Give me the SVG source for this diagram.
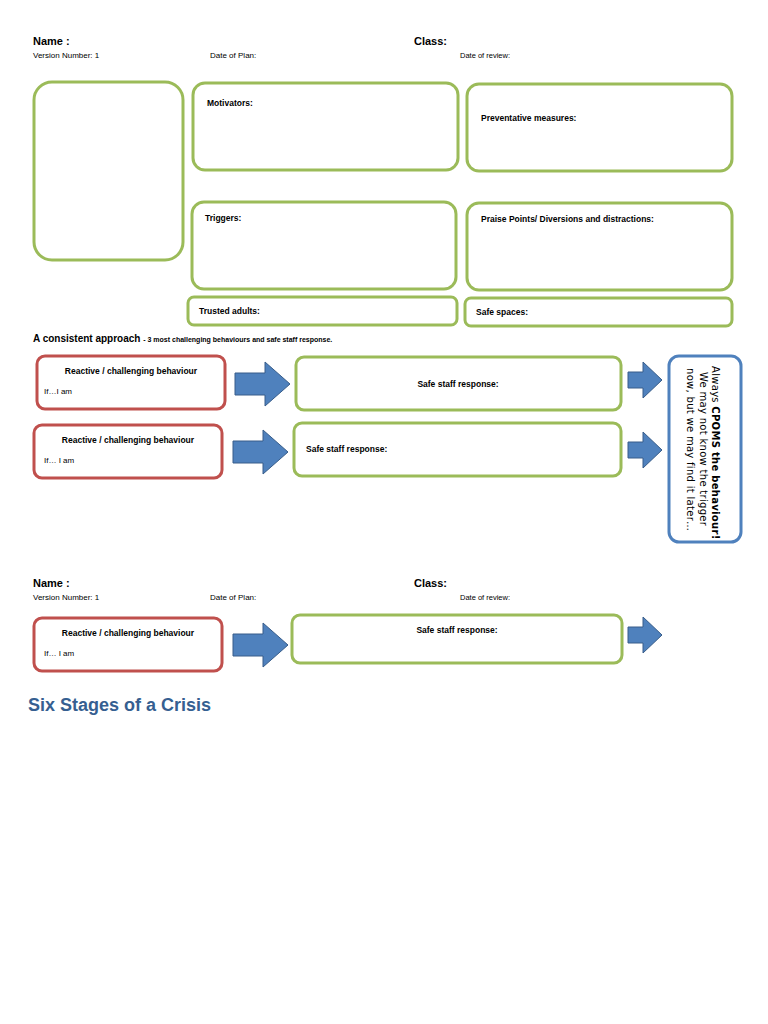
<svg xmlns="http://www.w3.org/2000/svg" width="768" height="1024" viewBox="0 0 768 1024">
<style>
text{font-family:"Liberation Sans",Arial,sans-serif;fill:#000}
.h{font-size:11px;font-weight:bold}
.s{font-size:8px}
.l{font-size:8.5px;font-weight:bold}
.g{fill:#fff;stroke:#9bbb59;stroke-width:3}
.r{fill:#fff;stroke:#c0504d;stroke-width:3}
.b{fill:#fff;stroke:#4f81bd;stroke-width:3}
.a{fill:#4f81bd;stroke:#385d8a;stroke-width:1}
.v{font-size:10px;font-family:"DejaVu Sans",sans-serif;letter-spacing:0.3px}
</style>
<rect width="768" height="1024" fill="#fff"/>
<g id="header1">
<text x="33" y="45" class="h">Name :</text>
<text x="414" y="45" class="h">Class:</text>
<text x="33" y="58" class="s">Version Number:  1</text>
<text x="210" y="58" class="s">Date of Plan:</text>
<text x="460" y="58" class="s" style="font-size:7.5px">Date of review:</text>
</g>
<g id="photo"><rect x="34" y="82" width="149" height="178" rx="18" class="g"/></g>
<g id="motivators"><rect x="193" y="83" width="265" height="87" rx="12" class="g"/><text x="207" y="106" class="l">Motivators:</text></g>
<g id="preventative"><rect x="467" y="84" width="265" height="87" rx="12" class="g"/><text x="481" y="121" class="l">Preventative measures:</text></g>
<g id="triggers"><rect x="192" y="202" width="264" height="87" rx="12" class="g"/><text x="205" y="221" class="l">Triggers:</text></g>
<g id="praise"><rect x="467" y="203" width="265" height="87" rx="12" class="g"/><text x="481" y="222" class="l">Praise Points/ Diversions and distractions:</text></g>
<g id="trusted"><rect x="188" y="297" width="269" height="28" rx="6" class="g"/><text x="199" y="314" class="l">Trusted adults:</text></g>
<g id="safespaces"><rect x="465" y="298" width="267" height="28" rx="6" class="g"/><text x="476" y="315" class="l">Safe spaces:</text></g>
<text x="33" y="342" style="font-size:10px;font-weight:bold">A consistent approach <tspan style="font-size:7px">- 3 most challenging behaviours and safe staff response.</tspan></text>
<g id="react1"><rect x="37" y="356" width="188" height="53" rx="8" class="r"/><text x="131" y="374" class="l" text-anchor="middle">Reactive / challenging behaviour</text><text x="44" y="394" class="s">If…I am</text></g>
<g id="safe1"><rect x="296" y="357" width="325" height="53" rx="8" class="g"/><text x="458" y="387" class="l" text-anchor="middle">Safe staff response:</text></g>
<g id="react2"><rect x="34" y="425" width="188" height="53" rx="8" class="r"/><text x="128" y="443" class="l" text-anchor="middle">Reactive / challenging behaviour</text><text x="44" y="463" class="s">If…  I am</text></g>
<g id="safe2"><rect x="294" y="423" width="327" height="53" rx="8" class="g"/><text x="306" y="452" class="l">Safe staff response:</text></g>
<g id="cpoms"><rect x="669" y="356" width="72" height="186" rx="10" class="b"/>
<g transform="translate(712,366) rotate(90)"><text x="0" y="0" class="v">Always <tspan font-weight="bold">CPOMS the behaviour!</tspan></text></g>
<g transform="translate(700,372) rotate(90)"><text x="0" y="0" class="v">We may not know the trigger</text></g>
<g transform="translate(687,368) rotate(90)"><text x="0" y="0" class="v">now, but we may find it later…</text></g>
</g>
<g id="header2">
<text x="33" y="587" class="h">Name :</text>
<text x="414" y="587" class="h">Class:</text>
<text x="33" y="600" class="s">Version Number:  1</text>
<text x="210" y="600" class="s">Date of Plan:</text>
<text x="460" y="600" class="s" style="font-size:7.5px">Date of review:</text>
</g>
<g id="react3"><rect x="34" y="618" width="188" height="53" rx="8" class="r"/><text x="128" y="636" class="l" text-anchor="middle">Reactive / challenging behaviour</text><text x="44" y="656" class="s">If…  I am</text></g>
<g id="safe3"><rect x="292" y="615" width="330" height="48" rx="8" class="g"/><text x="457" y="633" class="l" text-anchor="middle">Safe staff response:</text></g>
<text x="28" y="711" style="font-size:18px;font-weight:bold;fill:#365f91">Six Stages of a Crisis</text>
<g id="connectors">
<path class="a" d="M235,373h30v-11l25,22l-25,22v-11h-30z"/>
<path class="a" d="M233,441h30v-11l25,22l-25,22v-11h-30z"/>
<path class="a" d="M233,634h30v-11l25,22l-25,22v-11h-30z"/>
<path class="a" d="M628,372h15v-10l19,18l-19,18v-10h-15z"/>
<path class="a" d="M628,442h15v-10l19,18l-19,18v-10h-15z"/>
<path class="a" d="M628,627h15v-10l19,18l-19,18v-10h-15z"/>
</g>
</svg>
